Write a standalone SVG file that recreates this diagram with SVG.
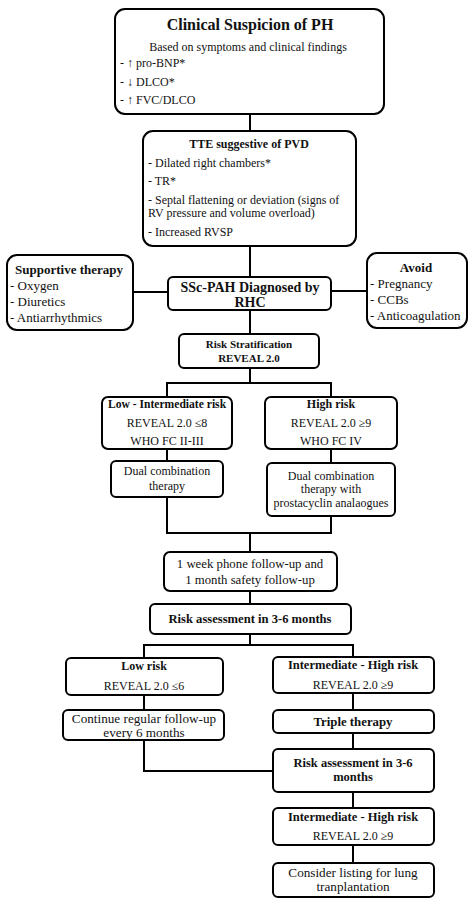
<svg xmlns="http://www.w3.org/2000/svg" width="474" height="905" viewBox="0 0 474 905">
<style>
.b{fill:#fff;stroke:#000;stroke-width:2}
.c{fill:none;stroke:#000;stroke-width:2}
text{font-family:"Liberation Serif","Times New Roman",serif;font-size:12px;fill:#111}
.m{text-anchor:middle}
.h{font-weight:bold}
.l{font-size:12.8px}
</style>
<rect width="474" height="905" fill="#fff"/>
<g id="connectors">
<path class="c" d="M250,114V131"/>
<path class="c" d="M250,246V277"/>
<path class="c" d="M133,292H168"/>
<path class="c" d="M331,291H367"/>
<path class="c" d="M250,310V334"/>
<path class="c" d="M250,368V383M167,397V383H331V397"/>
<path class="c" d="M167,449V461"/>
<path class="c" d="M331,449V463"/>
<path class="c" d="M167,497V533H331V516M250,533V552"/>
<path class="c" d="M250,591V604"/>
<path class="c" d="M250,634V645M144,658V645H353V657"/>
<path class="c" d="M144,695V710"/>
<path class="c" d="M353,693V710"/>
<path class="c" d="M353,733V749"/>
<path class="c" d="M144,740V771H273"/>
<path class="c" d="M353,792V808"/>
<path class="c" d="M353,845V863"/>
</g>
<g id="clinical">
<rect class="b" x="115" y="9" width="269" height="105" rx="10"/>
<text class="m h" x="250" y="30" style="font-size:16px">Clinical Suspicion of PH</text>
<text class="m" x="248" y="51">Based on symptoms and clinical findings</text>
<text x="120" y="67">- ↑ pro-BNP*</text>
<text x="120" y="86">- ↓ DLCO*</text>
<text x="120" y="104">- ↑ FVC/DLCO</text>
</g>
<g id="tte">
<rect class="b" x="143" y="131" width="213" height="115" rx="10"/>
<text class="m h" x="249" y="148">TTE suggestive of PVD</text>
<text x="148" y="167">- Dilated right chambers*</text>
<text x="148" y="185">- TR*</text>
<text x="148" y="204">- Septal flattening or deviation (signs of</text>
<text x="148" y="217">RV pressure and volume overload)</text>
<text x="148" y="236">- Increased RVSP</text>
</g>
<g id="supportive">
<rect class="b" x="7" y="255" width="126" height="75" rx="10"/>
<text class="m h" x="69" y="273.5" style="font-size:13px">Supportive therapy</text>
<text x="10" y="289.5" style="font-size:13px">- Oxygen</text>
<text x="10" y="305.5" style="font-size:13px">- Diuretics</text>
<text x="10" y="321.5" style="font-size:13px">- Antiarrhythmics</text>
</g>
<g id="ssc">
<rect class="b" x="168" y="277" width="163" height="33" rx="5"/>
<text class="m h" x="250" y="292" style="font-size:14px">SSc-PAH Diagnosed by</text>
<text class="m h" x="250" y="307" style="font-size:14px">RHC</text>
</g>
<g id="avoid">
<rect class="b" x="367" y="253" width="100" height="75" rx="10"/>
<text class="m h" x="416" y="271.5" style="font-size:13px">Avoid</text>
<text x="370" y="287.5" style="font-size:13px">- Pregnancy</text>
<text x="370" y="304" style="font-size:13px">- CCBs</text>
<text x="370" y="320" style="font-size:13px">- Anticoagulation</text>
</g>
<g id="riskstrat">
<rect class="b" x="179" y="334" width="140" height="34" rx="5"/>
<text class="m h" x="249" y="348" style="font-size:11px">Risk Stratification</text>
<text class="m h" x="249" y="362" style="font-size:11px">REVEAL 2.0</text>
</g>
<g id="lowint">
<rect class="b" x="102" y="397" width="130" height="52" rx="6"/>
<text class="m h" x="167" y="408" style="font-size:11.6px">Low - Intermediate risk</text>
<text class="m" x="167" y="427">REVEAL 2.0 ≤8</text>
<text class="m" x="167" y="445">WHO FC II-III</text>
</g>
<g id="high">
<rect class="b" x="265" y="397" width="132" height="52" rx="6"/>
<text class="m h" x="331" y="408">High risk</text>
<text class="m" x="331" y="427">REVEAL 2.0 ≥9</text>
<text class="m" x="331" y="445">WHO FC IV</text>
</g>
<g id="dual1">
<rect class="b" x="111" y="461" width="112" height="36" rx="5"/>
<text class="m" x="167" y="475">Dual combination</text>
<text class="m" x="167" y="490">therapy</text>
</g>
<g id="dual2">
<rect class="b" x="267" y="463" width="128" height="53" rx="5"/>
<text class="m" x="331" y="480">Dual combination</text>
<text class="m" x="331" y="493">therapy with</text>
<text class="m" x="331" y="507">prostacyclin analaogues</text>
</g>
<g id="followup">
<rect class="b" x="164" y="552" width="173" height="39" rx="6"/>
<text class="m l" x="250" y="568">1 week phone follow-up and</text>
<text class="m l" x="250" y="584">1 month safety follow-up</text>
</g>
<g id="riskassess1">
<rect class="b" x="150" y="604" width="201" height="30" rx="5"/>
<text class="m h" x="250" y="623" style="font-size:12.6px">Risk assessment in 3-6 months</text>
</g>
<g id="lowrisk">
<rect class="b" x="66" y="658" width="157" height="37" rx="5"/>
<text class="m h" x="144" y="670">Low risk</text>
<text class="m" x="144" y="690">REVEAL 2.0 ≤6</text>
</g>
<g id="continue">
<rect class="b" x="63" y="710" width="161" height="30" rx="5"/>
<text class="m" x="144" y="723" style="font-size:13.2px">Continue regular follow-up</text>
<text class="m" x="144" y="737" style="font-size:13.2px">every 6 months</text>
</g>
<g id="inthigh1">
<rect class="b" x="273" y="657" width="161" height="36" rx="5"/>
<text class="m h" x="353" y="669" style="font-size:12.5px">Intermediate - High risk</text>
<text class="m" x="353" y="689">REVEAL 2.0 ≥9</text>
</g>
<g id="triple">
<rect class="b" x="273" y="710" width="161" height="23" rx="5"/>
<text class="m h l" x="353" y="726">Triple therapy</text>
</g>
<g id="riskassess2">
<rect class="b" x="273" y="749" width="161" height="43" rx="5"/>
<text class="m h" x="353" y="767" style="font-size:12.5px">Risk assessment in 3-6</text>
<text class="m h" x="353" y="781" style="font-size:12.5px">months</text>
</g>
<g id="inthigh2">
<rect class="b" x="273" y="808" width="161" height="37" rx="5"/>
<text class="m h" x="353" y="821" style="font-size:12.5px">Intermediate - High risk</text>
<text class="m" x="353" y="840">REVEAL 2.0 ≥9</text>
</g>
<g id="consider">
<rect class="b" x="273" y="863" width="161" height="34" rx="5"/>
<text class="m" x="353" y="877" style="font-size:13.2px">Consider listing for lung</text>
<text class="m" x="353" y="891" style="font-size:13.2px">tranplantation</text>
</g>
</svg>
